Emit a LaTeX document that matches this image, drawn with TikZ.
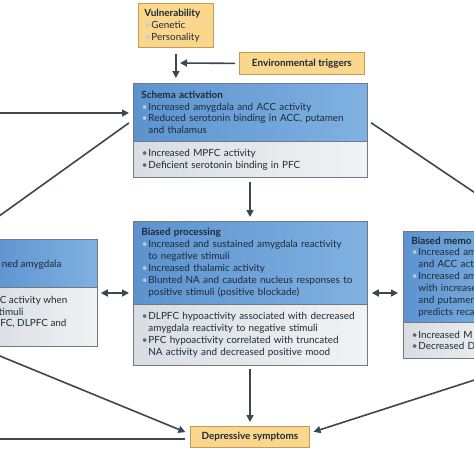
\documentclass[tikz,border=0pt]{standalone}
\usepackage{fontspec}
\setmainfont{Lato}
\usetikzlibrary{arrows.meta}
\definecolor{boxblueL}{HTML}{5C93CF}
\definecolor{boxblueR}{HTML}{80B1E1}
\definecolor{boxgreyL}{HTML}{D9DDE2}
\definecolor{boxgreyR}{HTML}{F1F2F4}
\definecolor{boxline}{HTML}{6F7A85}
\definecolor{boxorange}{HTML}{FAD78C}
\definecolor{orangeline}{HTML}{C49C4C}
\definecolor{txt}{HTML}{1E2A35}
\definecolor{bulblue}{HTML}{B5CDE8}
\definecolor{bulgrey}{HTML}{5E6973}
\definecolor{arrowcol}{HTML}{3B4852}
\newcommand{\bl}{\makebox[7pt][l]{\hspace{0.5pt}\textcolor{bulblue}{\textbullet}}}
\newcommand{\bg}{\makebox[7pt][l]{\hspace{0.5pt}\textcolor{bulgrey}{\textbullet}}}
\newcommand{\ind}{\hspace*{7pt}}
\begin{document}
\begin{tikzpicture}[x=1pt,y=-1pt,
    every node/.style={font=\fontsize{9.9}{11.9}\selectfont, text=txt},
    bluepart/.style 2 args={draw=boxline, line width=0.8pt, left color=boxblueL, right color=boxblueR,
        anchor=north west, inner xsep=8pt, inner ysep=0pt, text width=#1-16pt, minimum height=#2, align=left},
    greypart/.style 2 args={draw=boxline, line width=0.8pt, left color=boxgreyL, right color=boxgreyR,
        anchor=north west, inner xsep=8pt, inner ysep=0pt, text width=#1-16pt, minimum height=#2, align=left},
    orangebox/.style={draw=orangeline, line width=0.8pt, fill=boxorange, inner ysep=0pt},
    link/.style={draw=arrowcol, line width=1.6pt},
    arr/.style={link, -{Triangle[length=7pt,width=7pt]}},
    darr/.style={link, {Triangle[length=7pt,width=7pt]}-{Triangle[length=7pt,width=7pt]}}]
    \useasboundingbox (0,0) rectangle (474,474);
    \clip (0,0) rectangle (474,474);
    \fill[white] (0,0) rectangle (474,474);
    % inputs
    \node[orangebox, anchor=north west, text width=63pt, inner xsep=6pt, minimum height=44pt, align=left] (vul) at (138,3)
        {\textbf{Vulnerability}\\\bl Genetic\\\bl Personality};
    \node[orangebox, anchor=north west, minimum width=125pt, minimum height=22pt] (env) at (239,52)
        {\textbf{Environmental triggers}};
    % schema activation
    \node[bluepart={234pt}{58pt}] (schema) at (133,83)
        {\textbf{Schema activation}\\\bl Increased amygdala and ACC activity\\\bl Reduced serotonin binding in ACC, putamen\\\ind and thalamus};
    \node[greypart={234pt}{36pt}] (schemag) at (133,141)
        {\bg Increased MPFC activity\\\bg Deficient serotonin binding in PFC};
    % biased processing
    \node[bluepart={234pt}{83pt}] (proc) at (133,221)
        {\textbf{Biased processing}\\\bl Increased and sustained amygdala reactivity\\\ind to negative stimuli\\\bl Increased thalamic activity\\\bl Blunted NA and caudate nucleus responses to\\\ind positive stimuli (positive blockade)};
    \node[greypart={234pt}{61pt}] (procg) at (133,304)
        {\bg DLPFC hypoactivity associated with decreased\\\ind amygdala reactivity to negative stimuli\\\bg PFC hypoactivity correlated with truncated\\\ind NA activity and decreased positive mood};
    % left box (cut)
    \node[bluepart={110pt}{48pt}] (att) at (-13,239) {};
    \node[greypart={110pt}{59pt}] (attg) at (-13,287) {};
    \node[anchor=base east] (att1) at (65,267) {ned amygdala};
    \node[anchor=base east] (att2) at (71,303) {C activity when};
    \node[anchor=base east] (att3) at (27,315) {timuli};
    \node[anchor=base east] (att4) at (70,326) {PFC, DLPFC and};
    % right box (cut)
    \node[bluepart={110pt}{91pt}] (mem) at (403,231)
        {\textbf{Biased memo}\\\bl Increased am\\\ind and ACC act\\\bl Increased am\\\ind with increase\\\ind and putamen\\\ind predicts reca};
    \node[greypart={110pt}{36pt}] (memg) at (403,322)
        {\bg Increased M\\\bg Decreased D};
    % output
    \node[orangebox, anchor=north west, minimum width=119pt, minimum height=21pt] (dep) at (190,426)
        {\textbf{Depressive symptoms}};
    % free ends
    \coordinate (join) at (180,63);
    \coordinate (inL) at (-5,113);
    \coordinate (diagL) at (-5,219);
    \coordinate (diagR) at (490,203);
    \coordinate (mid) at (250,293);
    \coordinate (lowL) at (-5,354);
    \coordinate (baseL) at (-5,439);
    \coordinate (lowR) at (490,375);
    % connectors
    \draw[arr, shorten <=6pt, shorten >=5pt] (vul.south) -- (vul.south |- schema.north);
    \draw[arr, shorten <=4pt] (env.west) -- (join);
    \draw[arr, shorten <=4pt, shorten >=4pt] (schemag.south -| mid) -- (proc.north -| mid);
    \draw[arr, shorten <=3pt, shorten >=4pt] (procg.south -| mid) -- (dep.north -| mid);
    \draw[arr, shorten >=4pt] (inL) -- (schema.west |- inL);
    \draw[link, shorten >=5pt] (diagL) -- (133,120);
    \draw[link, shorten <=5pt] (367,120) -- (diagR);
    \draw[darr, shorten <=3pt, shorten >=4pt] (att.east |- mid) -- (proc.west |- mid);
    \draw[darr, shorten <=4pt, shorten >=5pt] (proc.east |- mid) -- (mem.west |- mid);
    \draw[arr, shorten >=5pt] (lowL) -- (dep.west |- 0,434);
    \draw[link, shorten >=5pt] (baseL) -- (dep.west |- baseL);
    \draw[arr, shorten >=4pt] (lowR) -- (dep.east |- 0,433);
\end{tikzpicture}
\end{document}
